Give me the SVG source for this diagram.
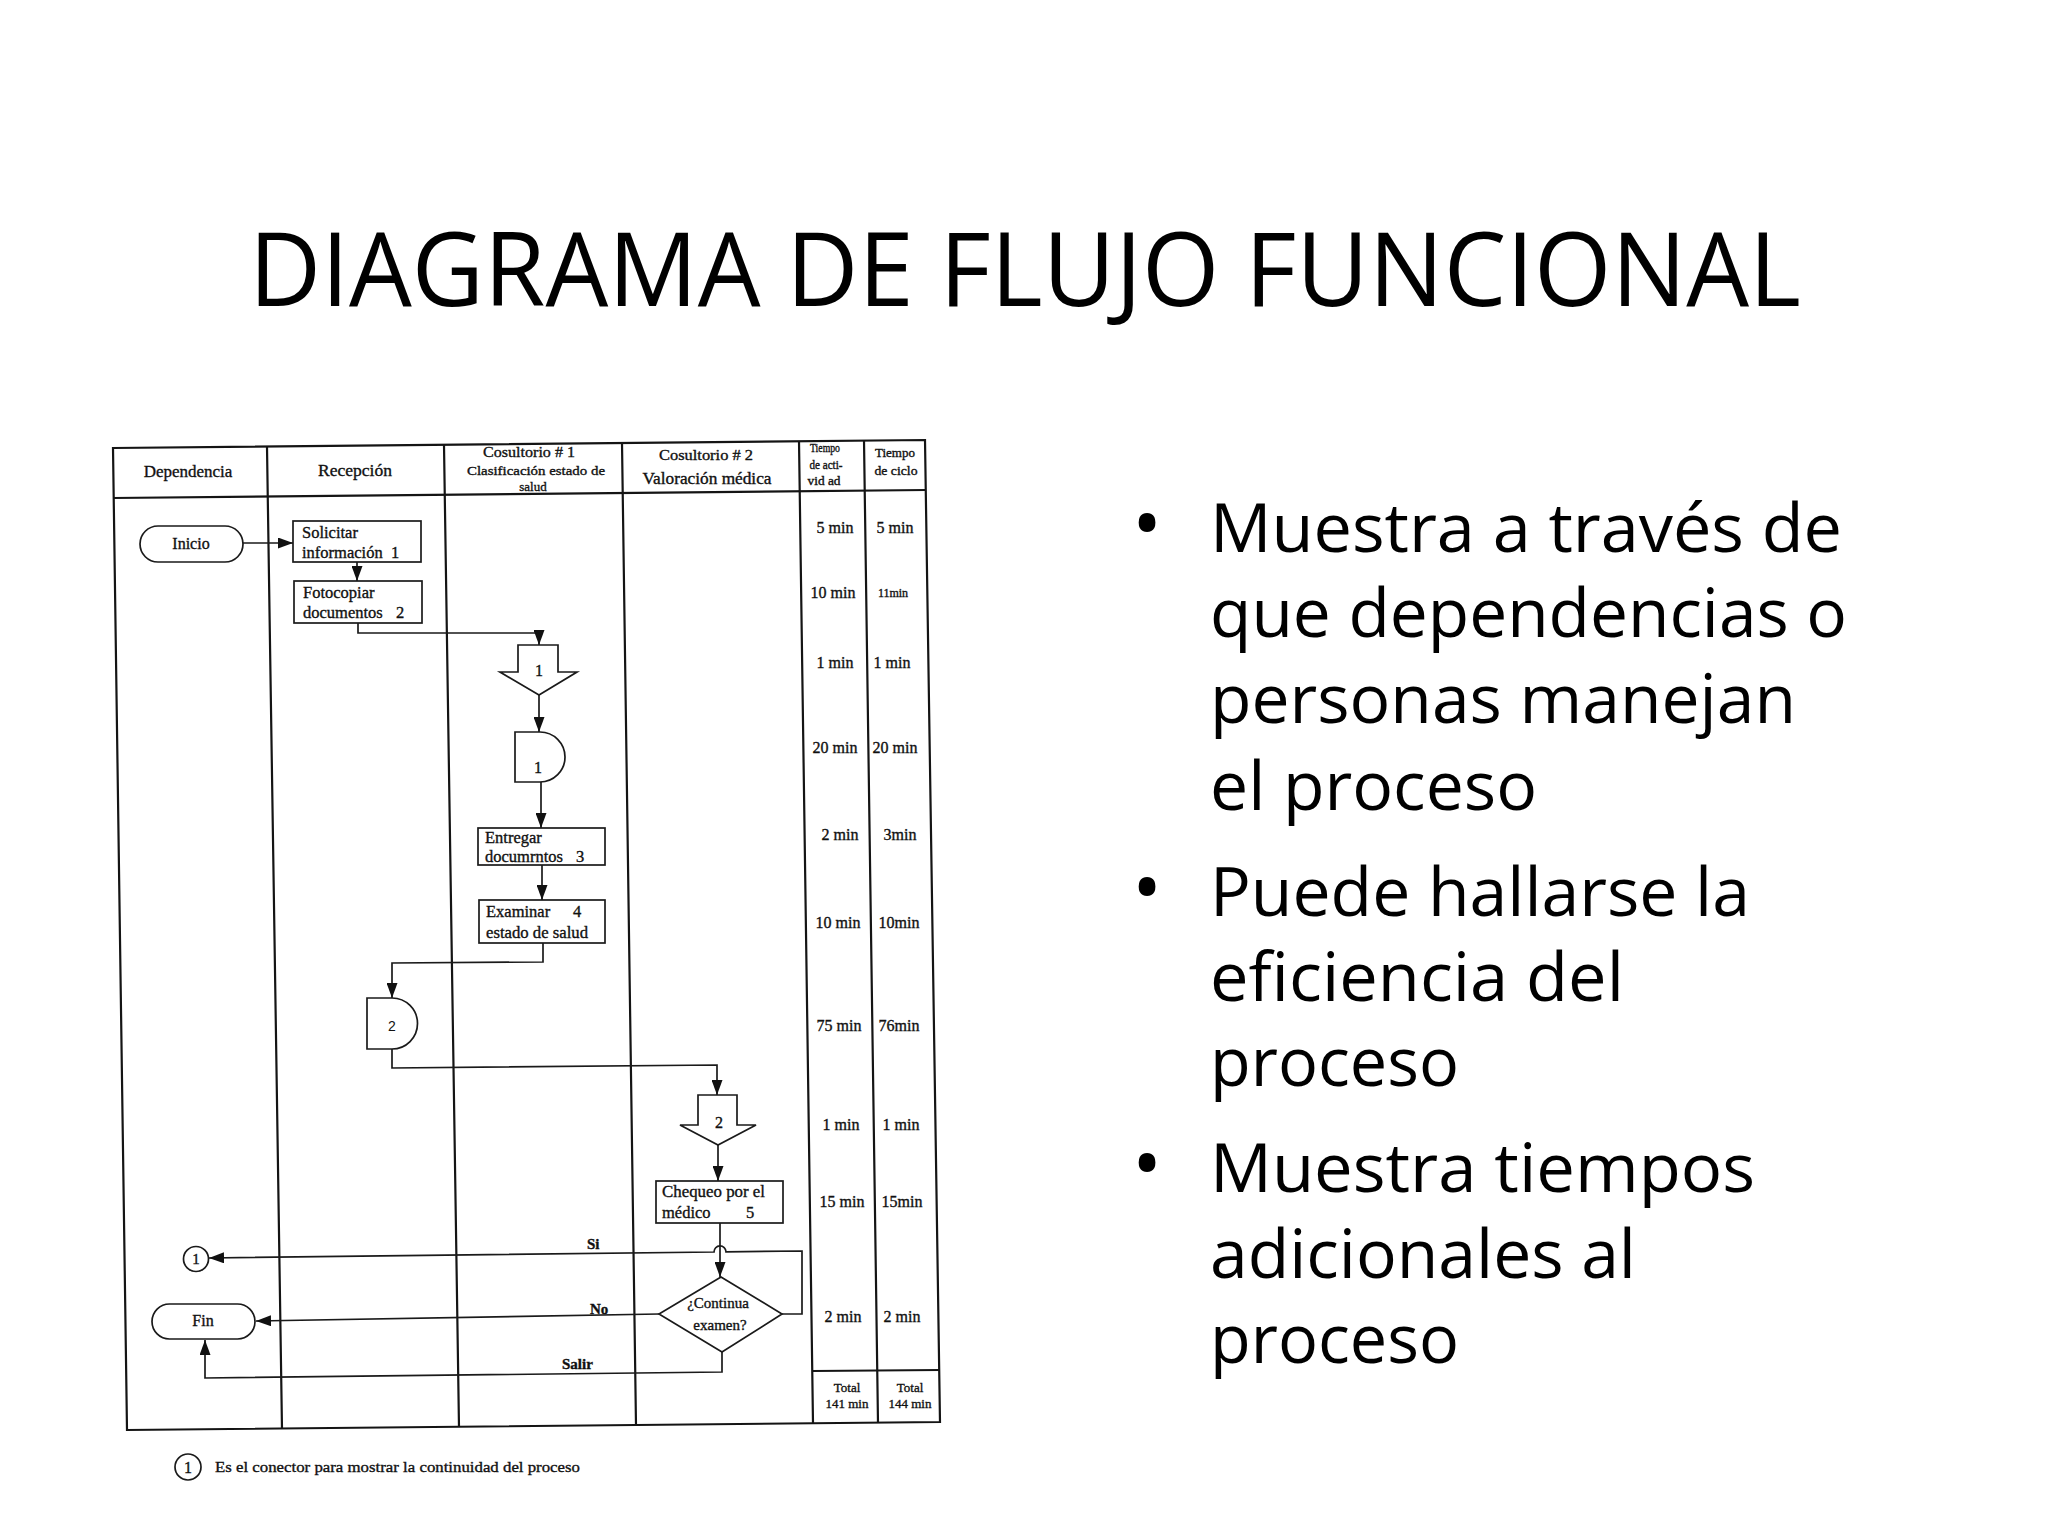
<svg xmlns="http://www.w3.org/2000/svg" width="2048" height="1536" viewBox="0 0 2048 1536">
<style>
.tb{stroke:#141414;stroke-width:2.2;fill:none}
.ln{stroke:#1a1a1a;stroke-width:1.7;fill:none}
.bx{fill:#fff;stroke:#1a1a1a;stroke-width:1.7}
.t{font-family:"Liberation Serif","Times New Roman",serif;fill:#111;stroke:#111;stroke-width:0.35}
.s{font-family:"Liberation Sans",Arial,sans-serif;fill:#111}
.b{font-weight:bold}
.m{text-anchor:middle}
.sl{font-family:"Open Sans","Noto Sans",sans-serif;fill:#000}
</style>
<defs>
<marker id="ah" markerWidth="15" markerHeight="11" refX="15" refY="5.5" orient="auto" markerUnits="userSpaceOnUse"><path d="M0,0 L15,5.5 L0,11 Z" fill="#111"/></marker>
</defs>
<rect width="2048" height="1536" fill="#fff"/>

<g id="title"><text class="sl" x="249" y="306" font-size="102" textLength="1552" lengthAdjust="spacingAndGlyphs">DIAGRAMA DE FLUJO FUNCIONAL</text></g>

<g id="bullets">
<text class="sl" x="1132" y="552" font-size="80">•</text>
<text class="sl" x="1210" y="552" font-size="67" textLength="632" lengthAdjust="spacingAndGlyphs">Muestra a través de</text>
<text class="sl" x="1210" y="637" font-size="67" textLength="637" lengthAdjust="spacingAndGlyphs">que dependencias o</text>
<text class="sl" x="1210" y="723" font-size="67" textLength="586" lengthAdjust="spacingAndGlyphs">personas manejan</text>
<text class="sl" x="1210" y="810" font-size="67" textLength="327" lengthAdjust="spacingAndGlyphs">el proceso</text>
<text class="sl" x="1132" y="916" font-size="80">•</text>
<text class="sl" x="1210" y="916" font-size="67" textLength="540" lengthAdjust="spacingAndGlyphs">Puede hallarse la</text>
<text class="sl" x="1210" y="1001" font-size="67" textLength="414" lengthAdjust="spacingAndGlyphs">eficiencia del</text>
<text class="sl" x="1210" y="1086" font-size="67" textLength="249" lengthAdjust="spacingAndGlyphs">proceso</text>
<text class="sl" x="1132" y="1192" font-size="80">•</text>
<text class="sl" x="1210" y="1192" font-size="67" textLength="545" lengthAdjust="spacingAndGlyphs">Muestra tiempos</text>
<text class="sl" x="1210" y="1278" font-size="67" textLength="426" lengthAdjust="spacingAndGlyphs">adicionales al</text>
<text class="sl" x="1210" y="1363" font-size="67" textLength="249" lengthAdjust="spacingAndGlyphs">proceso</text>
</g>

<g id="table">
<path class="tb" d="M113,448 L925,440 L940,1422 L127,1430 Z"/>
<path class="tb" d="M113,498 L926,490"/>
<path class="tb" d="M267,447 L282,1429 M444,445 L459,1427 M622,443 L636,1425 M799,441 L813,1423 M864,440 L878,1423"/>
<path class="tb" d="M813,1371 L940,1370"/>
<g id="headers">
<text class="t m" x="188" y="477" font-size="17">Dependencia</text>
<text class="t m" x="355" y="476" font-size="17" textLength="74" lengthAdjust="spacingAndGlyphs">Recepción</text>
<text class="t m" x="529" y="457" font-size="15" textLength="92" lengthAdjust="spacingAndGlyphs">Cosultorio # 1</text>
<text class="t m" x="536" y="475" font-size="13" textLength="138" lengthAdjust="spacingAndGlyphs">Clasificación estado de</text>
<text class="t m" x="533" y="491" font-size="13">salud</text>
<text class="t m" x="706" y="460" font-size="15" textLength="94" lengthAdjust="spacingAndGlyphs">Cosultorio # 2</text>
<text class="t m" x="707" y="484" font-size="16" textLength="129" lengthAdjust="spacingAndGlyphs">Valoración médica</text>
<text class="t m" x="825" y="452" font-size="11.5" textLength="30" lengthAdjust="spacingAndGlyphs">Tiempo</text>
<text class="t m" x="826" y="469" font-size="11.5" textLength="33" lengthAdjust="spacingAndGlyphs">de acti-</text>
<text class="t m" x="824" y="485" font-size="11.5" textLength="33" lengthAdjust="spacingAndGlyphs">vid ad</text>
<text class="t m" x="895" y="457" font-size="12.5" textLength="40" lengthAdjust="spacingAndGlyphs">Tiempo</text>
<text class="t m" x="896" y="475" font-size="12.5" textLength="43" lengthAdjust="spacingAndGlyphs">de ciclo</text>
</g>
<g id="times" class="t" font-size="16">
<text class="m" x="835" y="533">5 min</text><text class="m" x="895" y="533">5 min</text>
<text class="m" x="833" y="598">10 min</text><text class="m" x="893" y="597" font-size="12">11min</text>
<text class="m" x="835" y="668">1 min</text><text class="m" x="892" y="668">1 min</text>
<text class="m" x="835" y="753">20 min</text><text class="m" x="895" y="753">20 min</text>
<text class="m" x="840" y="840">2 min</text><text class="m" x="900" y="840">3min</text>
<text class="m" x="838" y="928">10 min</text><text class="m" x="899" y="928">10min</text>
<text class="m" x="839" y="1031">75 min</text><text class="m" x="899" y="1031">76min</text>
<text class="m" x="841" y="1130">1 min</text><text class="m" x="901" y="1130">1 min</text>
<text class="m" x="842" y="1207">15 min</text><text class="m" x="902" y="1207">15min</text>
<text class="m" x="843" y="1322">2 min</text><text class="m" x="902" y="1322">2 min</text>
<text class="m" x="847" y="1392" font-size="13">Total</text><text class="m" x="847" y="1408" font-size="13">141 min</text>
<text class="m" x="910" y="1392" font-size="13">Total</text><text class="m" x="910" y="1408" font-size="13">144 min</text>
</g>
</g>

<g id="connectors" class="ln">
<path marker-end="url(#ah)" d="M243,543 H293"/>
<path marker-end="url(#ah)" d="M357,562 V581"/>
<path marker-end="url(#ah)" d="M358,623 V633 H539 V645"/>
<path marker-end="url(#ah)" d="M539,695 V732"/>
<path marker-end="url(#ah)" d="M541,782 V828"/>
<path marker-end="url(#ah)" d="M542,865 V900"/>
<path marker-end="url(#ah)" d="M543,943 V962 L392,963 V998"/>
<path marker-end="url(#ah)" d="M392,1049 V1068 L717,1065 V1095"/>
<path marker-end="url(#ah)" d="M718,1145 V1181"/>
<path marker-end="url(#ah)" d="M720,1223 V1277"/>
<path marker-end="url(#ah)" d="M782,1314 H802 V1251 L726,1251.8 A6,6 0 0 0 714,1252 L209,1258"/>
<path marker-end="url(#ah)" d="M659,1314 L256,1321"/>
<path marker-end="url(#ah)" d="M722,1352 V1372 L205,1378 V1340"/>
</g>

<g id="n-inicio"><rect class="bx" x="140" y="526" width="103" height="36" rx="18"/><text class="t m" x="191" y="549" font-size="16">Inicio</text></g>
<g id="n-solicitar"><rect class="bx" x="293" y="521" width="128" height="41"/><text class="t" x="302" y="538" font-size="16.5">Solicitar</text><text class="t" x="302" y="558" font-size="16.5">información<tspan x="391">1</tspan></text></g>
<g id="n-fotocopiar"><rect class="bx" x="294" y="581" width="128" height="42"/><text class="t" x="303" y="598" font-size="16.5">Fotocopiar</text><text class="t" x="303" y="618" font-size="16.5">documentos<tspan x="396">2</tspan></text></g>
<g id="n-conector1"><path class="bx" d="M518,645 H558 V672 H577 L539,695 L500,672 H518 Z"/><text class="t m" x="539" y="676" font-size="16">1</text></g>
<g id="n-espera1"><path class="bx" d="M515,732 H540 A25,25 0 0 1 540,782 H515 Z"/><text class="t m" x="538" y="773" font-size="16">1</text></g>
<g id="n-entregar"><rect class="bx" x="478" y="828" width="127" height="37"/><text class="t" x="485" y="843" font-size="16.5">Entregar</text><text class="t" x="485" y="862" font-size="16.5">documrntos<tspan x="576">3</tspan></text></g>
<g id="n-examinar"><rect class="bx" x="479" y="900" width="126" height="43"/><text class="t" x="486" y="917" font-size="16.5">Examinar<tspan x="573">4</tspan></text><text class="t" x="486" y="938" font-size="16.5" textLength="102" lengthAdjust="spacingAndGlyphs">estado de salud</text></g>
<g id="n-espera2"><path class="bx" d="M367,998 H392 A25.5,25.5 0 0 1 392,1049 H367 Z"/><text class="s m" x="392" y="1031" font-size="14">2</text></g>
<g id="n-conector2"><path class="bx" d="M698,1095 H737 V1125 H756 L718,1145 L680,1125 H698 Z"/><text class="t m" x="719" y="1128" font-size="16">2</text></g>
<g id="n-chequeo"><rect class="bx" x="656" y="1181" width="127" height="42"/><text class="t" x="662" y="1197" font-size="16.5" textLength="103" lengthAdjust="spacingAndGlyphs">Chequeo por el</text><text class="t" x="662" y="1218" font-size="16.5">médico<tspan x="746">5</tspan></text></g>
<g id="n-decision"><path class="bx" d="M721,1277 L782,1314 L722,1352 L659,1314 Z"/><text class="t m" x="718" y="1308" font-size="15">¿Continua</text><text class="t m" x="720" y="1330" font-size="15">examen?</text></g>
<g id="n-circulo1"><circle class="bx" cx="196" cy="1259" r="12.5"/><text class="t m" x="196" y="1264" font-size="15">1</text></g>
<g id="n-fin"><rect class="bx" x="152" y="1304" width="103" height="35" rx="17.5"/><text class="t m" x="203" y="1326" font-size="16">Fin</text></g>

<g id="labels" class="t b" font-size="15">
<text x="587" y="1249">Si</text>
<text x="590" y="1314">No</text>
<text x="562" y="1369">Salir</text>
</g>

<g id="legend"><circle class="bx" cx="188" cy="1467" r="13"/><text class="t m" x="188" y="1473" font-size="16">1</text><text class="t" x="215" y="1472" font-size="15.5" textLength="365" lengthAdjust="spacingAndGlyphs">Es el conector para mostrar la continuidad del proceso</text></g>
</svg>
